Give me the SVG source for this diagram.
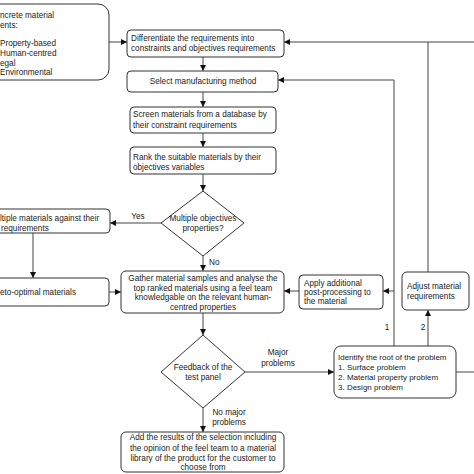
<svg xmlns="http://www.w3.org/2000/svg" width="474" height="474" viewBox="0 0 474 474">
<style>
.box{fill:#fff;stroke:#333;stroke-width:1}
.t{font-family:"Liberation Sans",Arial,sans-serif;font-size:8.2px;fill:#222}
.s{font-size:8px}
.m{text-anchor:middle}
.c{fill:none;stroke:#444;stroke-width:1}
</style>
<defs>
<marker id="ah" markerWidth="6" markerHeight="6" refX="6" refY="3" orient="auto" markerUnits="userSpaceOnUse">
<path d="M0,0 L6,3 L0,6 z" fill="#111"/>
</marker>
</defs>
<rect width="474" height="474" fill="#fff"/>
<g id="connectors">
<path class="c" d="M109,42 H127" marker-end="url(#ah)"/>
<path class="c" d="M203,57 V71" marker-end="url(#ah)"/>
<path class="c" d="M203,92 V107" marker-end="url(#ah)"/>
<path class="c" d="M203,133 V147" marker-end="url(#ah)"/>
<path class="c" d="M203,174 V191" marker-end="url(#ah)"/>
<path class="c" d="M161,223 H110" marker-end="url(#ah)"/>
<path class="c" d="M33,233 V278" marker-end="url(#ah)"/>
<path class="c" d="M109,292 H121" marker-end="url(#ah)"/>
<path class="c" d="M203,256 V271" marker-end="url(#ah)"/>
<path class="c" d="M299,291 H284" marker-end="url(#ah)"/>
<path class="c" d="M394,346 V80 H278" marker-end="url(#ah)"/>
<path class="c" d="M394,291 H383" marker-end="url(#ah)"/>
<path class="c" d="M428,346 V310" marker-end="url(#ah)"/>
<path class="c" d="M428,272 V42"/>
<path class="c" d="M456,372 H480 V42 H284" marker-end="url(#ah)"/>
<path class="c" d="M203,313 V335" marker-end="url(#ah)"/>
<path class="c" d="M245,372 H334" marker-end="url(#ah)"/>
<path class="c" d="M203,408 V432" marker-end="url(#ah)"/>
<text class="t m" x="138" y="219">Yes</text>
<text class="t" x="209" y="265">No</text>
<text class="t m" x="387" y="330">1</text>
<text class="t m" x="423" y="330">2</text>
<text class="t m" x="278" y="355">Major</text>
<text class="t m" x="278" y="366">problems</text>
<text class="t m" x="229" y="415">No major</text>
<text class="t m" x="229" y="425">problems</text>
</g>
<g id="n-concrete">
<rect class="box" x="-20" y="4" width="129" height="76" rx="11"/>
<text class="t" x="0" y="18">ncrete material</text>
<text class="t" x="0" y="28">ents:</text>
<text class="t" x="0" y="46">Property-based</text>
<text class="t" x="0" y="56">Human-centred</text>
<text class="t" x="0" y="66">egal</text>
<text class="t" x="0" y="75">Environmental</text>
</g>
<g id="n-differentiate">
<rect class="box" x="127" y="30" width="157" height="27" rx="4"/>
<text class="t" x="131" y="41">Differentiate the requirements into</text>
<text class="t" x="131" y="51">constraints and objectives requirements</text>
</g>
<g id="n-select">
<rect class="box" x="127" y="71" width="151" height="21" rx="4"/>
<text class="t m" x="203" y="84">Select manufacturing method</text>
</g>
<g id="n-screen">
<rect class="box" x="130" y="107" width="146" height="26" rx="4"/>
<text class="t" x="133" y="117">Screen materials from a database by</text>
<text class="t" x="133" y="128">their constraint requirements</text>
</g>
<g id="n-rank">
<rect class="box" x="130" y="147" width="146" height="27" rx="4"/>
<text class="t" x="133" y="160">Rank the suitable materials by their</text>
<text class="t" x="133" y="170">objectives variables</text>
</g>
<g id="n-multiple">
<path class="box" d="M203,191 L244,223 L203,256 L161,223 Z" stroke-linejoin="round"/>
<text class="t m" x="203" y="221">Multiple objectives</text>
<text class="t m" x="203" y="231">properties?</text>
</g>
<g id="n-compare">
<rect class="box" x="-20" y="209" width="130" height="24" rx="4"/>
<text class="t" x="0" y="221">ltiple materials against their</text>
<text class="t" x="1" y="231">requirements</text>
</g>
<g id="n-pareto">
<rect class="box" x="-20" y="278" width="129" height="28" rx="4"/>
<text class="t" x="0" y="295">eto-optimal materials</text>
</g>
<g id="n-gather">
<rect class="box" x="121" y="271" width="163" height="42" rx="5"/>
<text class="t m" x="203" y="281">Gather material samples and analyse the</text>
<text class="t m" x="203" y="291">top ranked materials using a feel team</text>
<text class="t m" x="203" y="300">knowledgable on the relevant human-</text>
<text class="t m" x="203" y="310">centred properties</text>
</g>
<g id="n-apply">
<rect class="box" x="299" y="275" width="84" height="34" rx="4"/>
<text class="t" x="304" y="286">Apply additional</text>
<text class="t" x="304" y="295">post-processing to</text>
<text class="t" x="304" y="304">the material</text>
</g>
<g id="n-adjust">
<rect class="box" x="402" y="272" width="67" height="38" rx="5"/>
<text class="t" x="407" y="289">Adjust material</text>
<text class="t" x="407" y="299">requirements</text>
</g>
<g id="n-feedback">
<path class="box" d="M203,335 L245,372 L203,408 L161,372 Z" stroke-linejoin="round"/>
<text class="t m" x="203" y="370">Feedback of the</text>
<text class="t m" x="203" y="380">test panel</text>
</g>
<g id="n-identify">
<rect class="box" x="334" y="346" width="122" height="52" rx="7"/>
<text class="t s" x="338" y="360">Identify the root of the problem</text>
<text class="t s" x="338" y="370">1. Surface problem</text>
<text class="t s" x="338" y="380">2. Material property problem</text>
<text class="t s" x="338" y="390">3. Design problem</text>
</g>
<g id="n-add">
<rect class="box" x="121" y="432" width="163" height="40" rx="5"/>
<text class="t m" x="203" y="440">Add the results of the selection including</text>
<text class="t m" x="203" y="451">the opinion of the feel team to a material</text>
<text class="t m" x="203" y="461">library of the product for the customer to</text>
<text class="t m" x="203" y="470">choose from</text>
</g>
</svg>
